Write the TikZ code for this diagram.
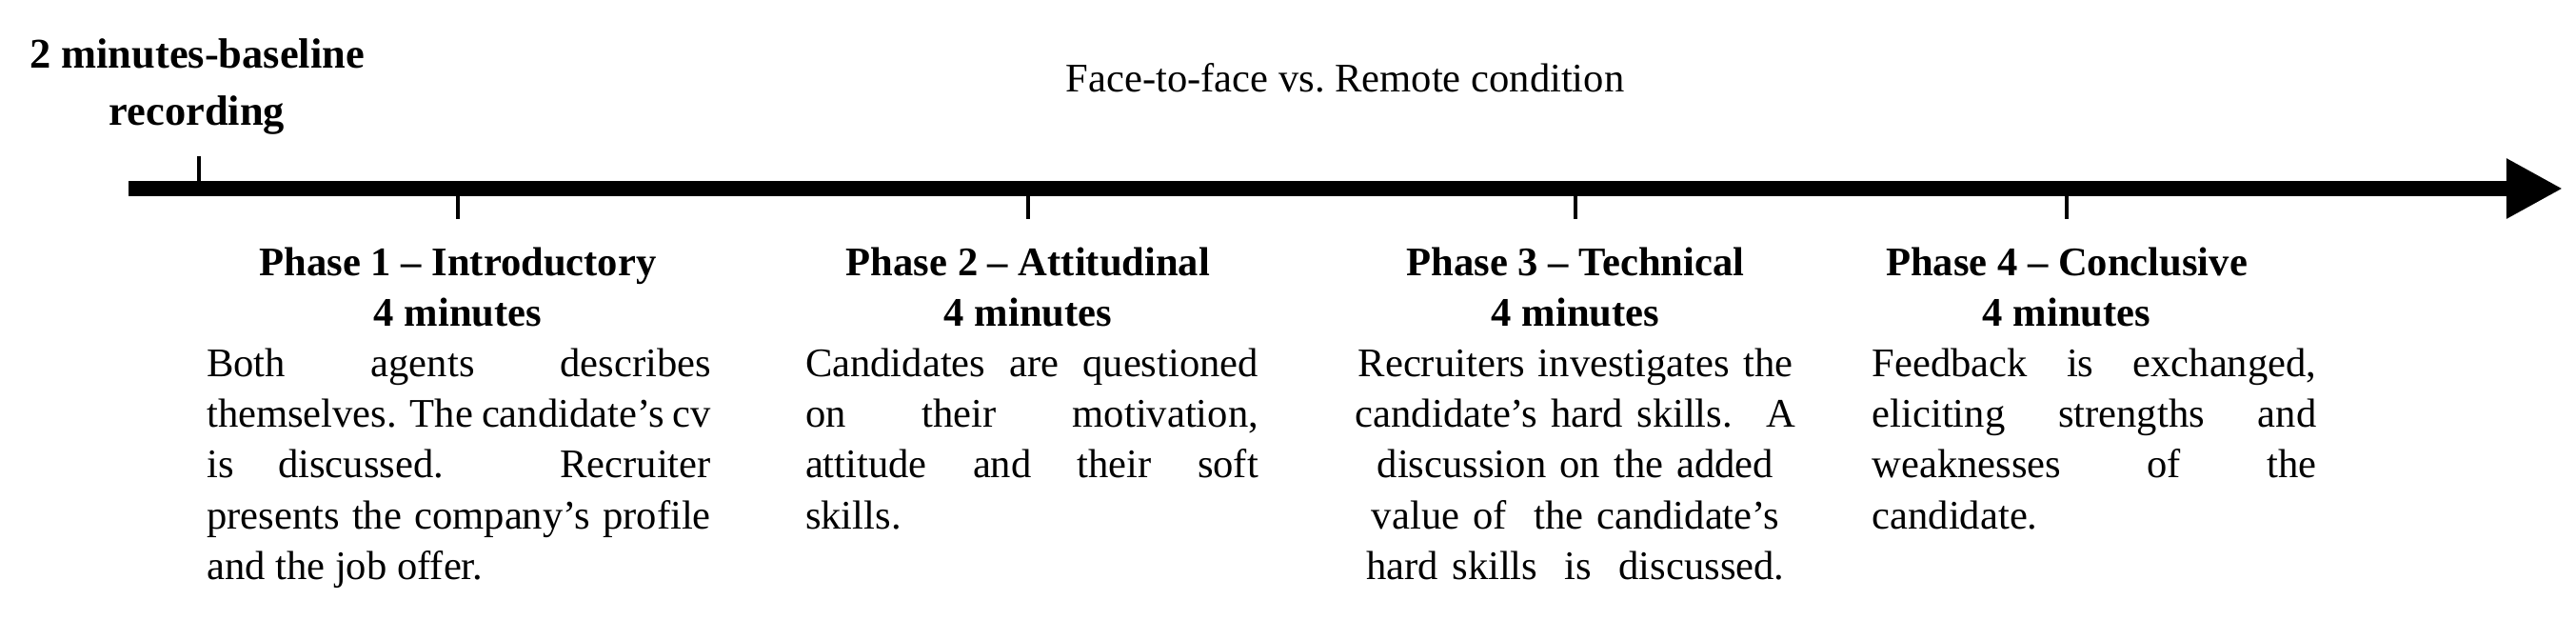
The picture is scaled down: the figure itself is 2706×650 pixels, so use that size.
\documentclass[tikz,border=0pt]{standalone}
\usepackage{fontspec}
\setmainfont{Liberation Serif}
\usetikzlibrary{arrows.meta}

\begin{document}
\begin{tikzpicture}[x=0.27pt,y=0.27pt]

        \def \bary {-198}
        \def \titley {-259}
        \def \texty {-365}

        \tikzset{phasetitle/.style={anchor=north,align=center,inner sep=0pt,font=\bfseries},
                 phasetext/.style={anchor=north,align=justify,inner sep=0pt},
                 tickmark/.style={line width=1.1pt}}

        \fontsize{11.5}{14.4}\selectfont

        \useasboundingbox (0,0) rectangle (2706,-650);

        % Draw time line
        \coordinate (start) at (135,\bary);
        \coordinate (end) at (2692,\bary);
        \draw[line width=4.3pt,-{Triangle[length=16pt,width=16pt]}] (start) -- (end);

        \node (cond) at (1413,-66) [anchor=north,inner sep=0pt] {Face-to-face vs.\ Remote condition};

        % Baseline mark
        \node (base) at (207,-40) [phasetitle,font=\fontsize{12}{16.2}\selectfont\bfseries] {2 minutes-baseline\\recording};
        \coordinate (base-a) at (209,\bary);
        \coordinate (base-b) at (209,-164);
        \draw[tickmark] (base-a) -- (base-b);

        % Draw phases
        \foreach \x/\n/\name in {481/1/Introductory,1080/2/Attitudinal,1655/3/Technical,2171/4/Conclusive} {
            \coordinate (tick-\n-a) at (\x,\bary);
            \coordinate (tick-\n-b) at (\x,-230);
            \draw[tickmark] (tick-\n-a) -- (tick-\n-b);
            \node (phase-\n) at (\x,\titley) [phasetitle] {Phase \n\ -- \name\\4 minutes};
        }

        % Phase descriptions
        \node (text-1) at (482,\texty) [phasetext,text width=143pt]
            {Both agents describes\linebreak themselves. The candidate's cv\linebreak is discussed. Recruiter\linebreak presents the company's profile\linebreak and the job offer.};
        \node (text-2) at (1084,\texty) [phasetext,text width=128.5pt]
            {Candidates are questioned\linebreak on their motivation,\linebreak attitude and their soft\linebreak skills.};
        \node (text-3) at (1655,\texty) [phasetext,text width=128pt,align=center]
            {Recruiters investigates the\\ candidate's hard skills.~ A\\ discussion on the added\\ value of~ the candidate's\\ hard skills~ is~ discussed.};
        \node (text-4) at (2200,\texty) [phasetext,text width=126pt]
            {Feedback is exchanged,\linebreak eliciting strengths and\linebreak weaknesses of the\linebreak candidate.};

    \end{tikzpicture}
\end{document}
